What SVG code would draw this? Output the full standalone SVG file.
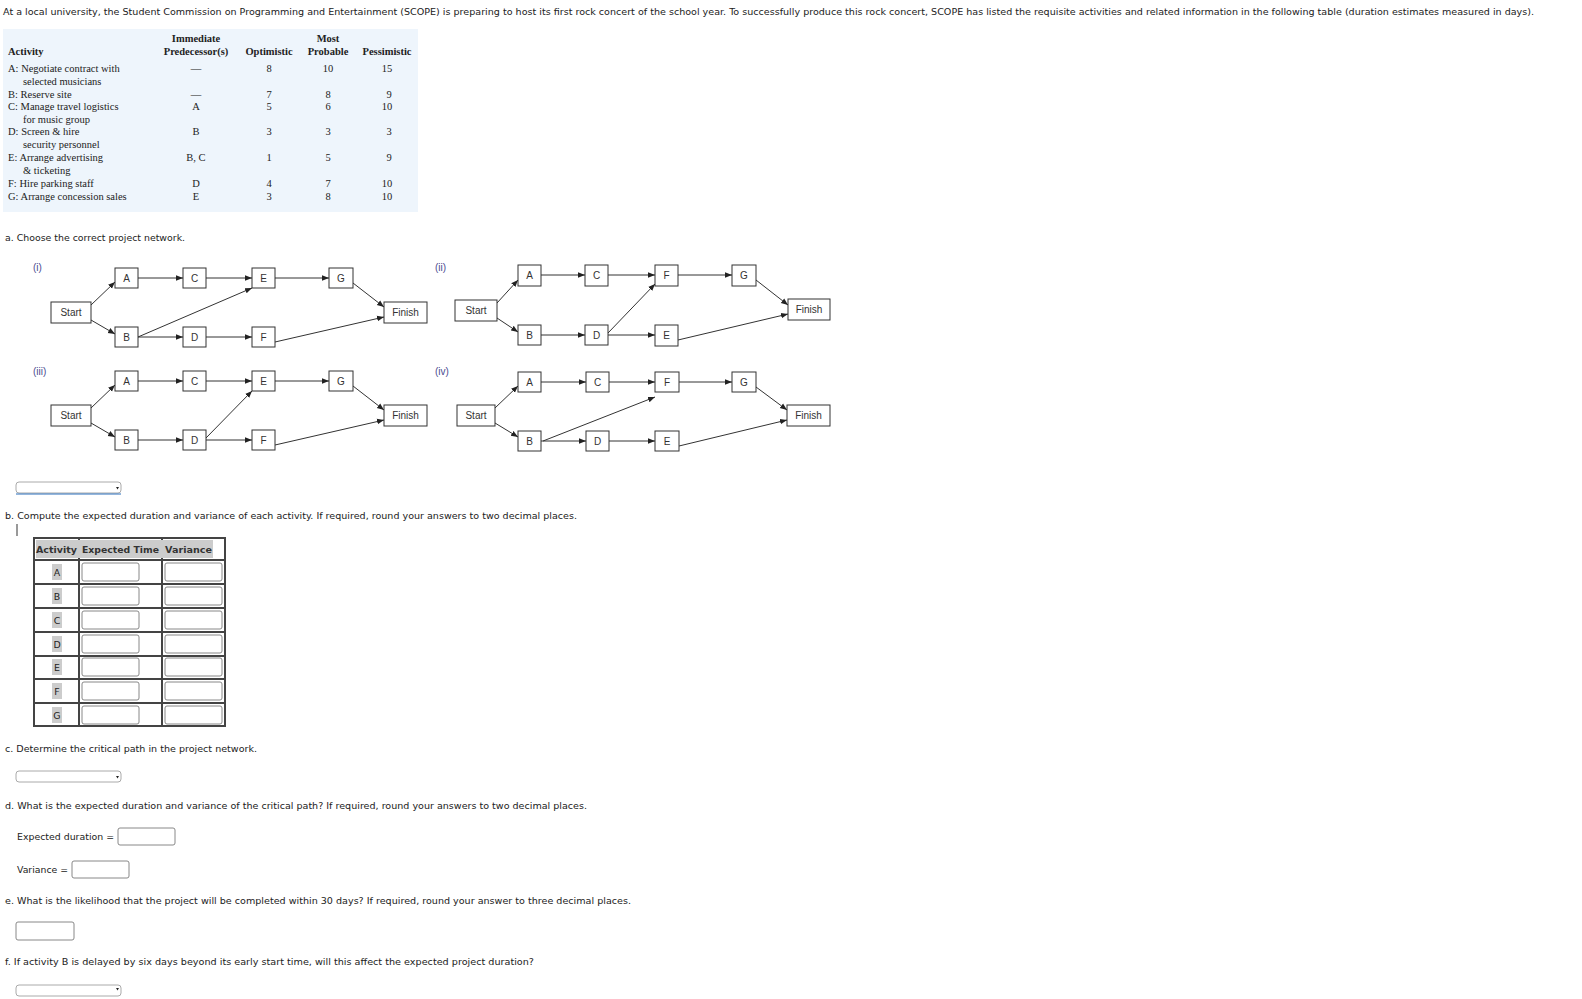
<svg xmlns="http://www.w3.org/2000/svg" width="1582" height="999" viewBox="0 0 1582 999">
<style>
.t{font-family:"DejaVu Sans",Verdana,sans-serif;font-size:9.4px;fill:#222}
.s{font-family:"Liberation Serif",serif;font-size:10.5px;fill:#222}
.sb{font-family:"Liberation Serif",serif;font-size:10.5px;font-weight:bold;fill:#222}
.n rect{fill:#fff;stroke:#333;stroke-width:1}
.n text{font-family:"Liberation Sans",Arial,sans-serif;font-size:10px;fill:#333;text-anchor:middle}
.c line{stroke:#333;stroke-width:1;marker-end:url(#ah)}
.lab{font-family:"Liberation Sans",Arial,sans-serif;font-size:10px;fill:#4a4a90}
.box{fill:#fff;stroke:#888;stroke-width:1}
.dd{fill:#fff;stroke:#aaa;stroke-width:1}
.tb{font-family:"DejaVu Sans",Verdana,sans-serif;font-size:9.4px;font-weight:bold;fill:#333}
</style>
<defs><marker id="ah" viewBox="0 0 10 10" refX="10" refY="5" markerWidth="7" markerHeight="7" orient="auto"><path d="M0,1L10,5L0,9z" fill="#222"/></marker></defs>
<rect width="1582" height="999" fill="#fff"/>
<text class="t" x="3" y="15" textLength="1531" lengthAdjust="spacingAndGlyphs">At a local university, the Student Commission on Programming and Entertainment (SCOPE) is preparing to host its first rock concert of the school year. To successfully produce this rock concert, SCOPE has listed the requisite activities and related information in the following table (duration estimates measured in days).</text>
<rect x="3" y="29" width="415" height="183" fill="#eef5fc"/>
<g text-anchor="middle">
<text class="sb" x="196" y="42">Immediate</text><text class="sb" x="196" y="55">Predecessor(s)</text>
<text class="sb" x="269" y="55">Optimistic</text>
<text class="sb" x="328" y="42">Most</text><text class="sb" x="328" y="55">Probable</text>
<text class="sb" x="387" y="55">Pessimistic</text>
</g>
<text class="sb" x="8" y="55">Activity</text>
<g class="s">
<text x="8" y="72">A: Negotiate contract with</text><text x="23" y="85">selected musicians</text>
<text x="8" y="98">B: Reserve site</text>
<text x="8" y="110">C: Manage travel logistics</text><text x="23" y="123">for music group</text>
<text x="8" y="135">D: Screen &amp; hire</text><text x="23" y="148">security personnel</text>
<text x="8" y="161">E: Arrange advertising</text><text x="23" y="174">&amp; ticketing</text>
<text x="8" y="187">F: Hire parking staff</text>
<text x="8" y="200">G: Arrange concession sales</text>
</g>
<g class="s" text-anchor="middle">
<text x="196" y="72">—</text><text x="269" y="72">8</text><text x="328" y="72">10</text><text x="387" y="72">15</text>
<text x="196" y="98">—</text><text x="269" y="98">7</text><text x="328" y="98">8</text><text x="389" y="98">9</text>
<text x="196" y="110">A</text><text x="269" y="110">5</text><text x="328" y="110">6</text><text x="387" y="110">10</text>
<text x="196" y="135">B</text><text x="269" y="135">3</text><text x="328" y="135">3</text><text x="389" y="135">3</text>
<text x="196" y="161">B, C</text><text x="269" y="161">1</text><text x="328" y="161">5</text><text x="389" y="161">9</text>
<text x="196" y="187">D</text><text x="269" y="187">4</text><text x="328" y="187">7</text><text x="387" y="187">10</text>
<text x="196" y="200">E</text><text x="269" y="200">3</text><text x="328" y="200">8</text><text x="387" y="200">10</text>
</g>
<text class="t" x="5" y="241">a. Choose the correct project network.</text>
<text class="lab" x="33" y="271">(i)</text><text class="lab" x="33" y="375">(iii)</text>
<text class="lab" x="435" y="271">(ii)</text><text class="lab" x="435" y="375">(iv)</text>

<g id="n1-start" class="n"><rect x="51" y="302" width="40" height="21"/><text x="71" y="316">Start</text></g>
<g id="n1-A" class="n"><rect x="115" y="268" width="23" height="20"/><text x="126.5" y="282">A</text></g>
<g id="n1-C" class="n"><rect x="183" y="268" width="23" height="20"/><text x="194.5" y="282">C</text></g>
<g id="n1-E" class="n"><rect x="252" y="268" width="23" height="20"/><text x="263.5" y="282">E</text></g>
<g id="n1-G" class="n"><rect x="329" y="268" width="24" height="20"/><text x="341" y="282">G</text></g>
<g id="n1-finish" class="n"><rect x="384" y="302" width="43" height="21"/><text x="405.5" y="316">Finish</text></g>
<g id="n1-B" class="n"><rect x="115" y="327" width="23" height="20"/><text x="126.5" y="341">B</text></g>
<g id="n1-D" class="n"><rect x="183" y="327" width="23" height="20"/><text x="194.5" y="341">D</text></g>
<g id="n1-F" class="n"><rect x="252" y="327" width="23" height="20"/><text x="263.5" y="341">F</text></g>
<g id="n3-start" class="n"><rect x="51" y="405" width="40" height="21"/><text x="71" y="419">Start</text></g>
<g id="n3-A" class="n"><rect x="115" y="371" width="23" height="20"/><text x="126.5" y="385">A</text></g>
<g id="n3-C" class="n"><rect x="183" y="371" width="23" height="20"/><text x="194.5" y="385">C</text></g>
<g id="n3-E" class="n"><rect x="252" y="371" width="23" height="20"/><text x="263.5" y="385">E</text></g>
<g id="n3-G" class="n"><rect x="329" y="371" width="24" height="20"/><text x="341" y="385">G</text></g>
<g id="n3-finish" class="n"><rect x="384" y="405" width="43" height="21"/><text x="405.5" y="419">Finish</text></g>
<g id="n3-B" class="n"><rect x="115" y="430" width="23" height="20"/><text x="126.5" y="444">B</text></g>
<g id="n3-D" class="n"><rect x="183" y="430" width="23" height="20"/><text x="194.5" y="444">D</text></g>
<g id="n3-F" class="n"><rect x="252" y="430" width="23" height="20"/><text x="263.5" y="444">F</text></g>
<g id="n2-start" class="n"><rect x="455" y="300" width="42" height="21"/><text x="476" y="314">Start</text></g>
<g id="n2-A" class="n"><rect x="518" y="265" width="23" height="21"/><text x="529.5" y="279">A</text></g>
<g id="n2-C" class="n"><rect x="585" y="265" width="23" height="21"/><text x="596.5" y="279">C</text></g>
<g id="n2-F" class="n"><rect x="655" y="265" width="23" height="21"/><text x="666.5" y="279">F</text></g>
<g id="n2-G" class="n"><rect x="732" y="265" width="24" height="21"/><text x="744" y="279">G</text></g>
<g id="n2-finish" class="n"><rect x="788" y="299" width="42" height="21"/><text x="809" y="313">Finish</text></g>
<g id="n2-B" class="n"><rect x="518" y="325" width="23" height="20"/><text x="529.5" y="339">B</text></g>
<g id="n2-D" class="n"><rect x="585" y="325" width="23" height="20"/><text x="596.5" y="339">D</text></g>
<g id="n2-E" class="n"><rect x="655" y="325" width="23" height="21"/><text x="666.5" y="339">E</text></g>
<g id="n4-start" class="n"><rect x="457" y="405" width="38" height="21"/><text x="476" y="419">Start</text></g>
<g id="n4-A" class="n"><rect x="518" y="372" width="23" height="20"/><text x="529.5" y="386">A</text></g>
<g id="n4-C" class="n"><rect x="586" y="372" width="23" height="20"/><text x="597.5" y="386">C</text></g>
<g id="n4-F" class="n"><rect x="655" y="372" width="24" height="20"/><text x="667" y="386">F</text></g>
<g id="n4-G" class="n"><rect x="732" y="372" width="24" height="20"/><text x="744" y="386">G</text></g>
<g id="n4-finish" class="n"><rect x="787" y="405" width="43" height="21"/><text x="808.5" y="419">Finish</text></g>
<g id="n4-B" class="n"><rect x="518" y="431" width="23" height="20"/><text x="529.5" y="445">B</text></g>
<g id="n4-D" class="n"><rect x="586" y="431" width="23" height="20"/><text x="597.5" y="445">D</text></g>
<g id="n4-E" class="n"><rect x="655" y="431" width="24" height="20"/><text x="667" y="445">E</text></g>

<g id="connectors" class="c">
<line x1="91" y1="305" x2="115" y2="282"/><line x1="91" y1="320" x2="115" y2="334"/>
<line x1="138" y1="278" x2="183" y2="278"/><line x1="206" y1="278" x2="252" y2="278"/><line x1="275" y1="278" x2="329" y2="278"/>
<line x1="138" y1="337" x2="183" y2="337"/><line x1="206" y1="337" x2="252" y2="337"/>
<line x1="138" y1="337" x2="252" y2="288"/>
<line x1="353" y1="283" x2="384" y2="307"/><line x1="275" y1="342" x2="384" y2="317"/>
<line x1="91" y1="408" x2="115" y2="385"/><line x1="91" y1="423" x2="115" y2="437"/>
<line x1="138" y1="381" x2="183" y2="381"/><line x1="206" y1="381" x2="252" y2="381"/><line x1="275" y1="381" x2="329" y2="381"/>
<line x1="138" y1="440" x2="183" y2="440"/><line x1="206" y1="440" x2="252" y2="440"/>
<line x1="206" y1="438" x2="252" y2="391"/>
<line x1="353" y1="386" x2="384" y2="410"/><line x1="275" y1="445" x2="384" y2="420"/>
<line x1="497" y1="303" x2="518" y2="280"/><line x1="497" y1="318" x2="518" y2="332"/>
<line x1="541" y1="275" x2="585" y2="275"/><line x1="608" y1="275" x2="655" y2="275"/><line x1="678" y1="275" x2="732" y2="275"/>
<line x1="541" y1="335" x2="585" y2="335"/><line x1="608" y1="335" x2="655" y2="335"/>
<line x1="608" y1="333" x2="655" y2="284"/>
<line x1="756" y1="280" x2="788" y2="305"/><line x1="678" y1="340" x2="788" y2="314"/>
<line x1="495" y1="408" x2="518" y2="386"/><line x1="495" y1="423" x2="518" y2="437"/>
<line x1="541" y1="382" x2="586" y2="382"/><line x1="609" y1="382" x2="655" y2="382"/><line x1="679" y1="382" x2="732" y2="382"/>
<line x1="541" y1="441" x2="586" y2="441"/><line x1="609" y1="441" x2="655" y2="441"/>
<line x1="543" y1="441" x2="655" y2="397"/>
<line x1="756" y1="387" x2="787" y2="410"/><line x1="679" y1="446" x2="787" y2="420"/>
</g>

<rect class="dd" x="16" y="482" width="105" height="11" rx="3"/><line x1="16" y1="494" x2="121" y2="494" stroke="#2a6ebb"/><path d="M116,487l3,0l-1.5,2.5z" fill="#222"/>
<text class="t" x="5" y="519" textLength="572" lengthAdjust="spacingAndGlyphs">b. Compute the expected duration and variance of each activity. If required, round your answers to two decimal places.</text>
<rect x="16" y="524" width="2" height="12" fill="#999"/>
<g stroke="#444" stroke-width="2" fill="none">
<rect x="34" y="538" width="191" height="188"/>
<line x1="79" y1="538" x2="79" y2="726"/><line x1="162" y1="538" x2="162" y2="726"/>
<line x1="34" y1="560" x2="225" y2="560"/><line x1="34" y1="584" x2="225" y2="584"/><line x1="34" y1="608" x2="225" y2="608"/><line x1="34" y1="632" x2="225" y2="632"/><line x1="34" y1="656" x2="225" y2="656"/><line x1="34" y1="679" x2="225" y2="679"/><line x1="34" y1="703" x2="225" y2="703"/>
</g>
<rect x="36" y="540" width="177" height="18" fill="#ccc"/>
<text class="tb" x="36" y="553" textLength="41" lengthAdjust="spacingAndGlyphs">Activity</text><text class="tb" x="82" y="553" textLength="77" lengthAdjust="spacingAndGlyphs">Expected Time</text><text class="tb" x="165" y="553" textLength="47" lengthAdjust="spacingAndGlyphs">Variance</text>
<g fill="#ccc">
<rect x="52" y="564" width="10" height="16"/><rect x="52" y="588" width="10" height="16"/><rect x="52" y="612" width="10" height="16"/><rect x="52" y="636" width="10" height="16"/><rect x="52" y="659" width="10" height="16"/><rect x="52" y="683" width="10" height="16"/><rect x="52" y="707" width="10" height="16"/>
</g>
<g class="t" text-anchor="middle" fill="#333">
<text x="57" y="576">A</text><text x="57" y="600">B</text><text x="57" y="624">C</text><text x="57" y="648">D</text><text x="57" y="671">E</text><text x="57" y="695">F</text><text x="57" y="719">G</text>
</g>
<g class="box">
<rect x="82" y="563" width="57" height="18" rx="2"/><rect x="165" y="563" width="57" height="18" rx="2"/>
<rect x="82" y="587" width="57" height="18" rx="2"/><rect x="165" y="587" width="57" height="18" rx="2"/>
<rect x="82" y="611" width="57" height="18" rx="2"/><rect x="165" y="611" width="57" height="18" rx="2"/>
<rect x="82" y="635" width="57" height="18" rx="2"/><rect x="165" y="635" width="57" height="18" rx="2"/>
<rect x="82" y="658" width="57" height="18" rx="2"/><rect x="165" y="658" width="57" height="18" rx="2"/>
<rect x="82" y="682" width="57" height="18" rx="2"/><rect x="165" y="682" width="57" height="18" rx="2"/>
<rect x="82" y="706" width="57" height="18" rx="2"/><rect x="165" y="706" width="57" height="18" rx="2"/>
</g>
<text class="t" x="5" y="752" textLength="252" lengthAdjust="spacingAndGlyphs">c. Determine the critical path in the project network.</text>
<rect class="dd" x="16" y="771" width="105" height="11" rx="3"/><path d="M116,776l3,0l-1.5,2.5z" fill="#222"/>
<text class="t" x="5" y="809" textLength="582" lengthAdjust="spacingAndGlyphs">d. What is the expected duration and variance of the critical path? If required, round your answers to two decimal places.</text>
<text class="t" x="17" y="840" textLength="97" lengthAdjust="spacingAndGlyphs">Expected duration =</text><rect class="box" x="118" y="828" width="57" height="17" rx="2"/>
<text class="t" x="17" y="873" textLength="51" lengthAdjust="spacingAndGlyphs">Variance =</text><rect class="box" x="72" y="861" width="57" height="17" rx="2"/>
<text class="t" x="5" y="904" textLength="626" lengthAdjust="spacingAndGlyphs">e. What is the likelihood that the project will be completed within 30 days? If required, round your answer to three decimal places.</text>
<rect class="box" x="16" y="922" width="58" height="18" rx="2"/>
<text class="t" x="5" y="965" textLength="529" lengthAdjust="spacingAndGlyphs">f. If activity B is delayed by six days beyond its early start time, will this affect the expected project duration?</text>
<rect class="dd" x="16" y="985" width="105" height="11" rx="3"/><path d="M116,988l3,0l-1.5,2.5z" fill="#222"/>
</svg>
